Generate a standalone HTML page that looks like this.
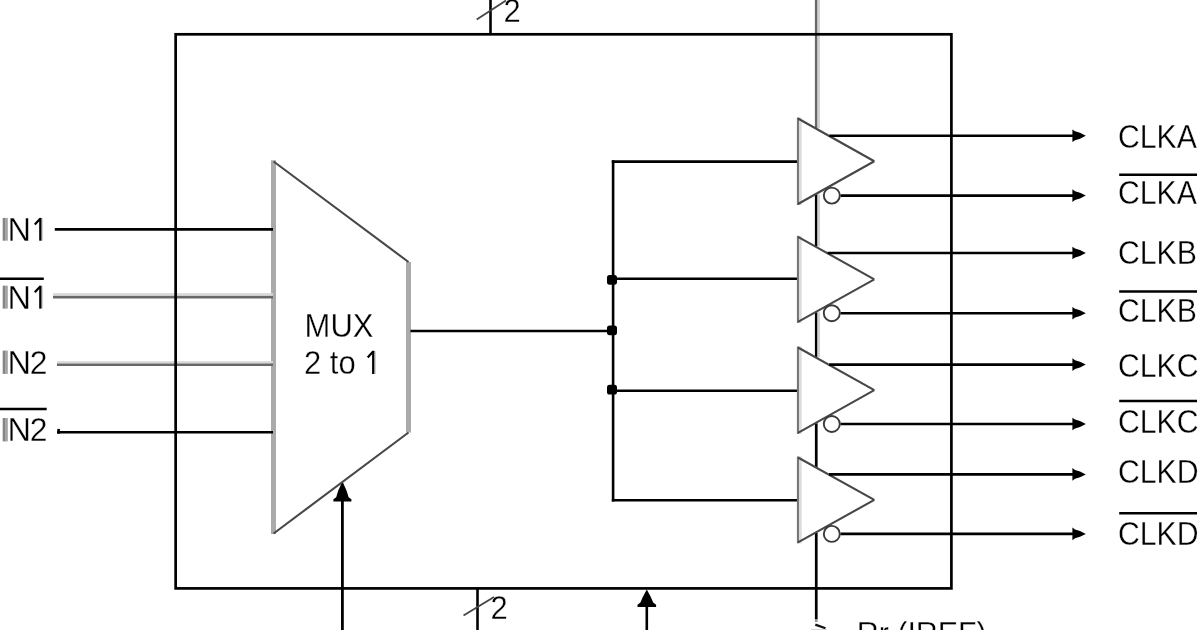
<!DOCTYPE html>
<html><head><meta charset="utf-8"><style>
html,body{margin:0;padding:0;background:#fff;overflow:hidden}
svg{display:block;will-change:transform}
text{font-family:"Liberation Sans",sans-serif;stroke:#fff;stroke-width:0.3px}
</style></head><body>
<svg width="1200" height="630" viewBox="0 0 1200 630">
<rect width="1200" height="630" fill="#fff"/>
<line x1="490.5" y1="0" x2="490.5" y2="34.3" stroke="#000" stroke-width="2.6" stroke-linecap="butt"/>
<line x1="476.7" y1="19.5" x2="506" y2="0.5" stroke="#444" stroke-width="1.8" stroke-linecap="butt"/>
<text transform="translate(503.5,21.5) scale(1.0,1.05)" font-size="31" fill="#000">2</text>
<line x1="477.5" y1="588.4" x2="477.5" y2="630" stroke="#000" stroke-width="2.6" stroke-linecap="butt"/>
<line x1="463.5" y1="615.5" x2="494" y2="597" stroke="#444" stroke-width="1.8" stroke-linecap="butt"/>
<text transform="translate(490.5,618.5) scale(1.0,1.05)" font-size="31" fill="#000">2</text>
<line x1="342.4" y1="500" x2="342.4" y2="630" stroke="#000" stroke-width="2.8" stroke-linecap="butt"/>
<polygon points="342.40,481.20 346.70,491.00 348.60,497.30 351.40,499.30 351.40,501.60 333.40,501.60 333.40,499.30 336.20,497.30 338.10,491.00" fill="#000"/>
<line x1="646.8" y1="605" x2="646.8" y2="630" stroke="#000" stroke-width="2.6" stroke-linecap="butt"/>
<polygon points="646.80,589.50 650.80,597.00 653.20,602.50 656.10,604.80 656.10,606.90 637.50,606.90 637.50,604.80 640.40,602.50 642.80,597.00" fill="#000"/>
<line x1="273.5" y1="160.2" x2="273.5" y2="534" stroke="#aaa" stroke-width="5.0" stroke-linecap="butt"/>
<line x1="408.5" y1="262" x2="408.5" y2="432.5" stroke="#aaa" stroke-width="5.0" stroke-linecap="butt"/>
<line x1="273.6" y1="161.5" x2="408.5" y2="262" stroke="#474747" stroke-width="2.1" stroke-linecap="butt"/>
<line x1="408.5" y1="432.5" x2="273.6" y2="533.5" stroke="#474747" stroke-width="2.1" stroke-linecap="butt"/>
<text transform="translate(304.6,337.4) scale(1.0,1.05)" font-size="31" fill="#000">MUX</text>
<text transform="translate(304.0,374.0) scale(1.0,1.05)" font-size="31" fill="#000">2 to</text>
<rect x="372.1" y="350.8" width="2.5" height="23.19999999999999" fill="#000"/><rect x="374.6" y="351.3" width="1.4" height="22.69999999999999" fill="#d4d4d4"/><line x1="373.1" y1="351.6" x2="367.70000000000005" y2="357.40000000000003" stroke="#000" stroke-width="2.2" stroke-linecap="butt"/>
<line x1="54.8" y1="229.4" x2="273" y2="229.4" stroke="#000" stroke-width="2.6" stroke-linecap="butt"/>
<rect x="53" y="293.2" width="220" height="2.6999999999999886" fill="#d8d8d8"/><rect x="53" y="295.9" width="220" height="2.6000000000000227" fill="#686868"/>
<rect x="57" y="361.2" width="216" height="2.3000000000000114" fill="#d8d8d8"/><rect x="57" y="363.5" width="216" height="2.5" fill="#686868"/>
<line x1="57" y1="432.3" x2="273" y2="432.3" stroke="#000" stroke-width="2.6" stroke-linecap="butt"/>
<rect x="57.3" y="428.9" width="2.6" height="4.8" fill="#000"/>
<rect x="2.7" y="217.9" width="2.9" height="22.799999999999983" fill="#858585"/><rect x="5.3" y="217.9" width="2.5" height="22.799999999999983" fill="#a3a3a3"/><text transform="translate(7.6,240.7) scale(1.05,1.05)" font-size="31" fill="#000">N</text><rect x="39.2" y="217.9" width="2.5" height="22.799999999999983" fill="#000"/><rect x="41.7" y="218.4" width="1.4" height="22.299999999999983" fill="#d4d4d4"/><line x1="40.2" y1="218.70000000000002" x2="34.800000000000004" y2="224.5" stroke="#000" stroke-width="2.2" stroke-linecap="butt"/>
<rect x="2.7" y="285.7" width="2.9" height="22.900000000000034" fill="#858585"/><rect x="5.3" y="285.7" width="2.5" height="22.900000000000034" fill="#a3a3a3"/><text transform="translate(7.6,308.6) scale(1.05,1.05)" font-size="31" fill="#000">N</text><rect x="39.2" y="285.7" width="2.5" height="22.900000000000034" fill="#000"/><rect x="41.7" y="286.2" width="1.4" height="22.400000000000034" fill="#d4d4d4"/><line x1="40.2" y1="286.5" x2="34.800000000000004" y2="292.3" stroke="#000" stroke-width="2.2" stroke-linecap="butt"/>
<line x1="0" y1="278.7" x2="43.8" y2="278.7" stroke="#000" stroke-width="2.5" stroke-linecap="butt"/>
<rect x="2.7" y="350.6" width="2.9" height="23.299999999999955" fill="#858585"/><rect x="5.3" y="350.6" width="2.5" height="23.299999999999955" fill="#a3a3a3"/><text transform="translate(7.6,373.9) scale(1.05,1.05)" font-size="31" fill="#000">N</text><text transform="translate(29.8,373.9) scale(1.03,1.05)" font-size="31" fill="#000">2</text>
<rect x="2.7" y="418.0" width="2.9" height="23.399999999999977" fill="#858585"/><rect x="5.3" y="418.0" width="2.5" height="23.399999999999977" fill="#a3a3a3"/><text transform="translate(7.6,441.4) scale(1.05,1.05)" font-size="31" fill="#000">N</text><text transform="translate(29.8,441.4) scale(1.03,1.05)" font-size="31" fill="#000">2</text>
<line x1="0" y1="409" x2="46.7" y2="409" stroke="#000" stroke-width="2.5" stroke-linecap="butt"/>
<line x1="410.5" y1="331" x2="613" y2="331" stroke="#000" stroke-width="2.6" stroke-linecap="butt"/>
<line x1="613.1" y1="160.3" x2="613.1" y2="501.6" stroke="#000" stroke-width="2.6" stroke-linecap="butt"/>
<line x1="611.8" y1="161.6" x2="797" y2="161.6" stroke="#000" stroke-width="2.6" stroke-linecap="butt"/>
<line x1="611.8" y1="278.8" x2="797" y2="278.8" stroke="#000" stroke-width="2.6" stroke-linecap="butt"/>
<line x1="611.8" y1="390.8" x2="797" y2="390.8" stroke="#000" stroke-width="2.6" stroke-linecap="butt"/>
<line x1="611.8" y1="500.3" x2="797" y2="500.3" stroke="#000" stroke-width="2.6" stroke-linecap="butt"/>
<rect x="607.0" y="274.90" width="10" height="9.8" rx="2.6" fill="#000"/>
<rect x="607.0" y="325.40" width="10" height="9.8" rx="2.6" fill="#000"/>
<rect x="607.0" y="384.70" width="10" height="9.8" rx="2.6" fill="#000"/>
<rect x="817.1" y="0" width="2.9" height="128.15139442231077" fill="#d2d2d2"/>
<rect x="814.9" y="0" width="2.3" height="128.15139442231077" fill="#666"/>
<rect x="817.1" y="194.34860557768923" width="2.9" height="52.057636122177996" fill="#d2d2d2"/>
<rect x="814.9" y="194.34860557768923" width="2.3" height="52.057636122177996" fill="#000"/>
<rect x="817.1" y="312.29375830013277" width="2.9" height="44.8463479415671" fill="#d2d2d2"/>
<rect x="814.9" y="312.29375830013277" width="2.3" height="44.8463479415671" fill="#000"/>
<rect x="814.9" y="423.2598937583001" width="2.7" height="43.81248339973439" fill="#000"/>
<rect x="814.9" y="532.7276228419654" width="2.7" height="86.7723771580346" fill="#000"/>
<line x1="815.3" y1="624.6" x2="825.5" y2="628.3" stroke="#111" stroke-width="2.2" stroke-linecap="butt"/>
<line x1="811" y1="630" x2="827" y2="630" stroke="#ccc" stroke-width="1.4" stroke-linecap="butt"/>
<rect x="799.0" y="117.5" width="2.7" height="87.5" fill="#dcdcdc"/>
<rect x="796.9" y="117.5" width="2.1" height="87.5" fill="#777"/>
<line x1="798" y1="118.5" x2="874.3" y2="161.25" stroke="#474747" stroke-width="2.1" stroke-linecap="butt"/>
<line x1="874.3" y1="161.25" x2="798" y2="204.0" stroke="#474747" stroke-width="2.1" stroke-linecap="butt"/>
<line x1="829.3842105263158" y1="135.75" x2="1073" y2="135.75" stroke="#000" stroke-width="2.6" stroke-linecap="butt"/>
<polygon points="1085.80,135.75 1080.00,132.85 1075.00,131.35 1072.40,129.45 1072.40,142.05 1075.00,140.15 1080.00,138.65" fill="#000"/>
<circle cx="831.8" cy="195.6" r="8" fill="#fff" stroke="#3a3a3a" stroke-width="1.9"/>
<line x1="840.6" y1="195.6" x2="1073" y2="195.6" stroke="#000" stroke-width="2.6" stroke-linecap="butt"/>
<polygon points="1085.80,195.60 1080.00,192.70 1075.00,191.20 1072.40,189.30 1072.40,201.90 1075.00,200.00 1080.00,198.50" fill="#000"/>
<rect x="799.0" y="235.8" width="2.7" height="87.09999999999997" fill="#dcdcdc"/>
<rect x="796.9" y="235.8" width="2.1" height="87.09999999999997" fill="#777"/>
<line x1="798" y1="236.8" x2="874.3" y2="279.35" stroke="#474747" stroke-width="2.1" stroke-linecap="butt"/>
<line x1="874.3" y1="279.35" x2="798" y2="321.9" stroke="#474747" stroke-width="2.1" stroke-linecap="butt"/>
<line x1="827.6688601645124" y1="253.0" x2="1073" y2="253.0" stroke="#000" stroke-width="2.6" stroke-linecap="butt"/>
<polygon points="1085.80,253.00 1080.00,250.10 1075.00,248.60 1072.40,246.70 1072.40,259.30 1075.00,257.40 1080.00,255.90" fill="#000"/>
<circle cx="831.8" cy="313.2" r="8" fill="#fff" stroke="#3a3a3a" stroke-width="1.9"/>
<line x1="840.6" y1="313.2" x2="1073" y2="313.2" stroke="#000" stroke-width="2.6" stroke-linecap="butt"/>
<polygon points="1085.80,313.20 1080.00,310.30 1075.00,308.80 1072.40,306.90 1072.40,319.50 1075.00,317.60 1080.00,316.10" fill="#000"/>
<rect x="799.0" y="346.5" width="2.7" height="87.39999999999998" fill="#dcdcdc"/>
<rect x="796.9" y="346.5" width="2.1" height="87.39999999999998" fill="#777"/>
<line x1="798" y1="347.5" x2="874.3" y2="390.2" stroke="#474747" stroke-width="2.1" stroke-linecap="butt"/>
<line x1="874.3" y1="390.2" x2="798" y2="432.9" stroke="#474747" stroke-width="2.1" stroke-linecap="butt"/>
<line x1="829.1552693208431" y1="364.6" x2="1073" y2="364.6" stroke="#000" stroke-width="2.6" stroke-linecap="butt"/>
<polygon points="1085.80,364.60 1080.00,361.70 1075.00,360.20 1072.40,358.30 1072.40,370.90 1075.00,369.00 1080.00,367.50" fill="#000"/>
<circle cx="831.8" cy="424.0" r="8" fill="#fff" stroke="#3a3a3a" stroke-width="1.9"/>
<line x1="840.6" y1="424.0" x2="1073" y2="424.0" stroke="#000" stroke-width="2.6" stroke-linecap="butt"/>
<polygon points="1085.80,424.00 1080.00,421.10 1075.00,419.60 1072.40,417.70 1072.40,430.30 1075.00,428.40 1080.00,426.90" fill="#000"/>
<rect x="799.0" y="456.5" width="2.7" height="86.79999999999995" fill="#dcdcdc"/>
<rect x="796.9" y="456.5" width="2.1" height="86.79999999999995" fill="#777"/>
<line x1="798" y1="457.5" x2="874.3" y2="499.9" stroke="#474747" stroke-width="2.1" stroke-linecap="butt"/>
<line x1="874.3" y1="499.9" x2="798" y2="542.3" stroke="#474747" stroke-width="2.1" stroke-linecap="butt"/>
<line x1="829.0134433962264" y1="474.4" x2="1073" y2="474.4" stroke="#000" stroke-width="2.6" stroke-linecap="butt"/>
<polygon points="1085.80,474.40 1080.00,471.50 1075.00,470.00 1072.40,468.10 1072.40,480.70 1075.00,478.80 1080.00,477.30" fill="#000"/>
<circle cx="831.8" cy="533.9" r="8" fill="#fff" stroke="#3a3a3a" stroke-width="1.9"/>
<line x1="840.6" y1="533.9" x2="1073" y2="533.9" stroke="#000" stroke-width="2.6" stroke-linecap="butt"/>
<polygon points="1085.80,533.90 1080.00,531.00 1075.00,529.50 1072.40,527.60 1072.40,540.20 1075.00,538.30 1080.00,536.80" fill="#000"/>
<text transform="translate(1118.0,147.5) scale(0.975,1.05)" font-size="31" fill="#000">CLKA</text>
<text transform="translate(1118.0,204.2) scale(0.975,1.05)" font-size="31" fill="#000">CLKA</text>
<line x1="1119.2" y1="174.7" x2="1197" y2="174.7" stroke="#000" stroke-width="2.5" stroke-linecap="butt"/>
<text transform="translate(1118.0,264) scale(0.975,1.05)" font-size="31" fill="#000">CLKB</text>
<text transform="translate(1118.0,321.6) scale(0.975,1.05)" font-size="31" fill="#000">CLKB</text>
<line x1="1119.2" y1="291.4" x2="1197" y2="291.4" stroke="#000" stroke-width="2.5" stroke-linecap="butt"/>
<text transform="translate(1118.0,376.6) scale(0.975,1.05)" font-size="31" fill="#000">CLKC</text>
<text transform="translate(1118.0,433.4) scale(0.975,1.05)" font-size="31" fill="#000">CLKC</text>
<line x1="1119.2" y1="401.1" x2="1197" y2="401.1" stroke="#000" stroke-width="2.5" stroke-linecap="butt"/>
<text transform="translate(1118.0,482.8) scale(0.975,1.05)" font-size="31" fill="#000">CLKD</text>
<text transform="translate(1118.0,545.1) scale(0.975,1.05)" font-size="31" fill="#000">CLKD</text>
<line x1="1119.2" y1="513.2" x2="1197" y2="513.2" stroke="#000" stroke-width="2.5" stroke-linecap="butt"/>
<rect x="814.9" y="619.5" width="2.7" height="2.5" fill="#999"/>
<text transform="translate(856.8,645) scale(0.98,1.05)" font-size="31" fill="#000">Rr (IREF)</text>
<rect x="175.65" y="34.3" width="775.75" height="554.10" fill="none" stroke="#000" stroke-width="2.7"/>
</svg>
</body></html>
